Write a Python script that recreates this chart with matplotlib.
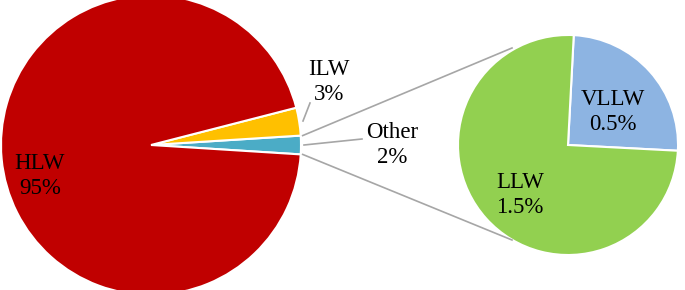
import matplotlib
matplotlib.use("Agg")
import matplotlib.pyplot as plt
import numpy as np

# main pie
main_labels = ["Other", "ILW", "HLW"]
main_values = [2, 3, 95]
main_colors = ["#4BACC6", "#FFC000", "#C00000"]

# breakdown of "Other"
sub_labels = ["VLLW", "LLW"]
sub_values = [0.5, 1.5]
sub_colors = ["#8DB4E2", "#92D050"]

W, H = 685, 290
fig = plt.figure(figsize=(W / 100, H / 100), dpi=100)
ax = fig.add_axes([0, 0, 1, 1])

plt.rcParams["font.family"] = ["Liberation Serif", "DejaVu Serif"]
fs = 16.5

def iy(y):
    # image y (top down) -> axes y
    return H - y

c1, r1 = (151, iy(145)), 150
c2, r2 = (568, iy(145)), 110

other_share = main_values[0] / sum(main_values)
start1 = -other_share * 180
ax.pie(main_values, colors=main_colors, startangle=start1, counterclock=True,
       center=c1, radius=r1, frame=True,
       wedgeprops=dict(edgecolor="white", linewidth=1.5))

ax.pie(sub_values, colors=sub_colors, startangle=-3, counterclock=True,
       center=c2, radius=r2, frame=True, explode=[0.03, 0],
       wedgeprops=dict(edgecolor="white", linewidth=1.5))
ax.set_xlim(0, W)
ax.set_ylim(0, H)
ax.set_aspect("equal")
ax.axis("off")

# connector lines from "Other" wedge to the second pie
a = np.deg2rad(start1)
p_lo = (c1[0] + r1 * np.cos(a), c1[1] + r1 * np.sin(a))
p_hi = (c1[0] + r1 * np.cos(-a), c1[1] + r1 * np.sin(-a))
ax.plot([p_hi[0] + 2, 512], [p_hi[1], iy(48)], color="#A6A6A6", lw=1.2)
ax.plot([p_lo[0] + 2, 512], [p_lo[1], iy(240)], color="#A6A6A6", lw=1.2)

# leader lines
ax.plot([303, 310], [iy(121), iy(103)], color="#A6A6A6", lw=1.2)
ax.plot([304, 362], [iy(145), iy(139)], color="#A6A6A6", lw=1.2)

def lab(x, y, name, val):
    ax.text(x, iy(y), f"{name}\n{val}%", ha="center", va="center",
            fontsize=fs, linespacing=1.3, color="black")

lab(329, 82, main_labels[1], main_values[1])
lab(392, 145, main_labels[0], main_values[0])
lab(40, 176, main_labels[2], main_values[2])
lab(520, 195, sub_labels[1], sub_values[1])
lab(613, 112, sub_labels[0], sub_values[0])

fig.savefig("out.png", dpi=100)
